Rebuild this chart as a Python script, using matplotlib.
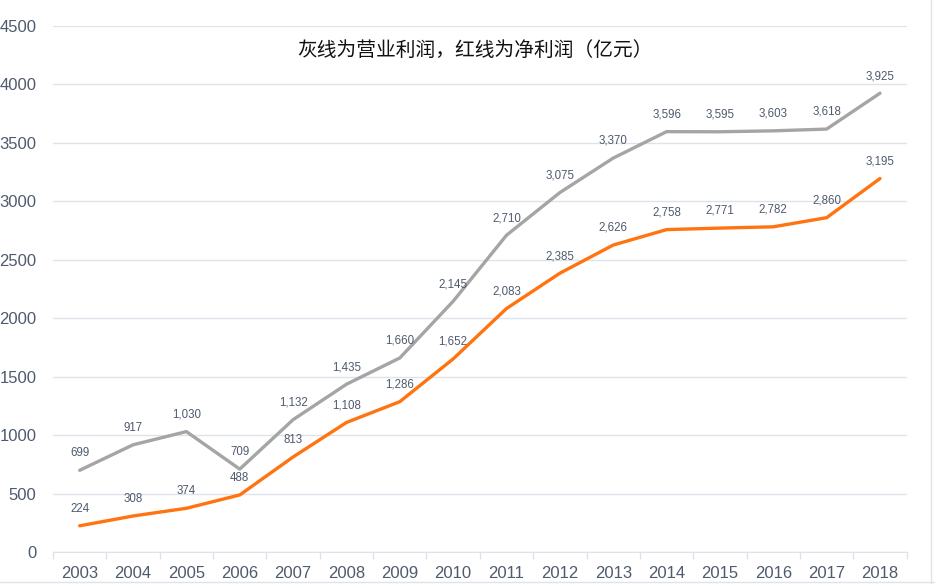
import numpy as np
import matplotlib
matplotlib.use('Agg')
import matplotlib.pyplot as plt
from matplotlib.lines import Line2D

years = ['2003', '2004', '2005', '2006', '2007', '2008', '2009', '2010',
         '2011', '2012', '2013', '2014', '2015', '2016', '2017', '2018']
operating = [699, 917, 1030, 709, 1132, 1435, 1660, 2145,
             2710, 3075, 3370, 3596, 3595, 3603, 3618, 3925]
net = [224, 308, 374, 488, 813, 1108, 1286, 1652,
       2083, 2385, 2626, 2758, 2771, 2782, 2860, 3195]
title = '灰线为营业利润，红线为净利润（亿元）'

textColor = '#4f5a6e'
gridColor = '#dfe2ea'


def main():
    plt.rcParams['font.family'] = ['Liberation Sans', 'DejaVu Sans']
    fig = plt.figure(figsize=(9.35, 5.84), dpi=100)
    ax = fig.add_axes([0.0567, 0.0548, 0.913, 0.9007])
    x = np.arange(len(years))

    ax.plot(x, operating, color='#a5a5a5', lw=2.4, solid_capstyle='round', zorder=3)
    ax.plot(x, net, color='#ff7410', lw=2.4, solid_capstyle='round', zorder=3)

    for xi, v in zip(x, operating):
        ax.annotate(f'{v:,}', (xi, v), xytext=(0, 8), textcoords='offset points',
                    ha='center', va='bottom', fontsize=8.3, color=textColor)
    for xi, v in zip(x, net):
        ax.annotate(f'{v:,}', (xi, v), xytext=(0, 8), textcoords='offset points',
                    ha='center', va='bottom', fontsize=8.3, color=textColor)

    ax.set_xlim(-0.5, len(years) - 0.5)
    ax.set_ylim(0, 4500)
    ax.set_yticks(np.arange(0, 4501, 500))
    ax.set_xticks(x)
    ax.set_xticklabels(years)
    ax.set_xticks(np.arange(-0.5, len(years)), minor=True)
    ax.tick_params(axis='x', which='major', length=0, pad=10, labelsize=12, labelcolor=textColor)
    ax.tick_params(axis='x', which='minor', length=5, color=gridColor, width=1)
    ax.tick_params(axis='y', length=0, pad=12, labelsize=12, labelcolor=textColor)

    ax.grid(axis='y', color=gridColor, lw=1)
    ax.set_axisbelow(True)
    for s in ['top', 'right', 'left']:
        ax.spines[s].set_visible(False)
    ax.spines['bottom'].set_color(gridColor)

    fig.text(0.508, 0.913, title, ha='center', va='center', fontsize=14.2,
             color='#111111', family=['Noto Sans CJK SC', 'DejaVu Sans'])

    # faint frame lines at the right and bottom edge
    fig.add_artist(Line2D([0.9955, 0.9955], [0.0, 1.0], color=gridColor, lw=1))
    fig.add_artist(Line2D([0.0, 1.0], [0.003, 0.003], color=gridColor, lw=1))

    fig.savefig('out.png', dpi=100, facecolor='white')


if __name__ == "__main__":
    main()
